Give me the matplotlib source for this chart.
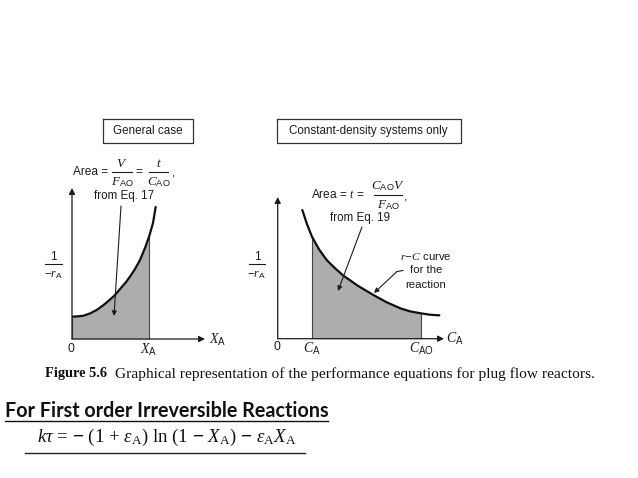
"""Plug flow reactor performance figure: 1/-rA curves for both cases."""

import matplotlib
matplotlib.use("Agg")
import matplotlib.pyplot as plt
import numpy as np

plt.rcParams.update({
    "font.family": "Liberation Sans",
    "mathtext.fontset": "custom",
    "mathtext.rm": "Liberation Sans",
    "mathtext.it": "Liberation Serif:italic",
    "mathtext.bf": "Liberation Sans:bold",
    "mathtext.sf": "Liberation Serif",
})

# values are fractions of the axis length
general_x = [0, .045, .085, .135, .185, .233, .278, .323, .368, .406, .436, .474, .511, .549, .581, .609, .629]
general_y = [.148, .150, .154, .169, .192, .222, .255, .291, .338, .377, .413, .464, .523, .603, .682, .768, .874]
general_xa = 0.581

constant_x = [.148, .176, .206, .249, .295, .345, .395, .484, .576, .652, .736, .796, .861, .917, .972]
constant_y = [.908, .809, .720, .630, .555, .497, .445, .372, .308, .259, .215, .193, .179, .169, .165]
constant_ca = 0.206
constant_cao = 0.861

W, H = 638, 478
INK = "#1c1c1c"
SHADE = "#adadad"


def panel_axes(fig, left, right, top, bottom):
    ax = fig.add_axes([left / W, 1 - bottom / H, (right - left) / W, (bottom - top) / H])
    ax.set_xlim(0, 1)
    ax.set_ylim(0, 1)
    ax.axis("off")
    ax.patch.set_alpha(0)
    ax.annotate("", xy=(1, 0), xytext=(0, 0), arrowprops=dict(arrowstyle="-|>", color=INK, lw=0.9, shrinkA=0, shrinkB=0, mutation_scale=9))
    ax.annotate("", xy=(0, 1), xytext=(0, 0), arrowprops=dict(arrowstyle="-|>", color=INK, lw=0.9, shrinkA=0, shrinkB=0, mutation_scale=9))
    return ax


def shade(ax, x, y, x0, x1):
    x = np.array(x)
    y = np.array(y)
    keep = (x >= x0) & (x <= x1)
    ax.fill_between(x[keep], 0, y[keep], color=SHADE, lw=0)
    ax.vlines([x0, x1], 0, [y[keep][0], y[keep][-1]], color="#444444", lw=0.8)


fig = plt.figure(figsize=(W / 100, H / 100), dpi=100, facecolor="white")

ax1 = panel_axes(fig, 72, 205, 188, 339)
shade(ax1, general_x, general_y, 0, general_xa)
ax1.plot(general_x, general_y, color="#101010", lw=1.6, solid_capstyle="round")

ax2 = panel_axes(fig, 277.7, 444, 197, 338.7)
shade(ax2, constant_x, constant_y, constant_ca, constant_cao)
ax2.plot(constant_x, constant_y, color="#101010", lw=1.6, solid_capstyle="round")

# overlay in pixel coordinates for the labels
top = fig.add_axes([0, 0, 1, 1])
top.set_xlim(0, W)
top.set_ylim(H, 0)
top.axis("off")
top.patch.set_alpha(0)


def label(x, y, s, size=8.4, **kw):
    kw.setdefault("ha", "center")
    kw.setdefault("va", "center")
    top.text(x, y, s, size=size, color=INK, **kw)


def pointer(tail, head):
    top.annotate("", xy=head, xytext=tail, arrowprops=dict(arrowstyle="-|>", color=INK, lw=0.8, shrinkA=0, shrinkB=0, mutation_scale=7))


def frac(x0, x1, y, upper, lower, up_y, low_y, size=9.5):
    top.plot([x0, x1], [y, y], color=INK, lw=0.8)
    label((x0 + x1) / 2, up_y, upper, size=size)
    label((x0 + x1) / 2, low_y, lower, size=size)


# header boxes
for x0, x1, text in [(103, 192.5, "General case"), (277, 460.5, "Constant-density systems only")]:
    top.plot([x0, x1, x1, x0, x0], [119, 119, 142.5, 142.5, 119], color="#333333", lw=0.9)
    label((x0 + x1) / 2, 131, text, size=8.4)

# left panel
label(91, 172, "Area =", size=8.6)
frac(112, 132, 172, r"$V$", r"$F_{\mathrm{AO}}$", 164, 182)
label(138.5, 172, "=", size=8.6)
frac(149, 168, 172, r"$t$", r"$C_{\mathrm{AO}}$", 164, 182)
label(174, 174, ",", size=8.6)
label(124, 196, "from Eq. 17")
pointer((121, 206), (114, 316))
frac(45, 62, 264, "1", r"$-r_{\mathrm{A}}$", 257, 275, size=8.6)
label(71, 349, "0", size=8.8)
label(149, 350, r"$X_{\mathrm{A}}$", size=10)
label(218, 340, r"$X_{\mathrm{A}}$", size=10)

# right panel
label(338, 195, r"Area = $t$ =", size=8.6)
frac(374, 402, 195, r"$C_{\mathrm{AO}}V$", r"$F_{\mathrm{AO}}$", 186, 205)
label(406, 198, ",", size=8.6)
label(360, 218, "from Eq. 19")
pointer((362, 227), (338, 291))
frac(249, 265, 264, "1", r"$-r_{\mathrm{A}}$", 257, 275, size=8.6)
label(277, 347, "0", size=8.8)
label(312, 349, r"$C_{\mathrm{A}}$", size=10)
label(421, 349, r"$C_{\mathrm{AO}}$", size=10)
label(455, 339, r"$C_{\mathrm{A}}$", size=10)
label(426, 256, r"$r\!-\!C$ curve", size=8.2)
label(426, 270, "for the", size=8.2)
label(426, 285, "reaction", size=8.2)
top.plot([403, 397], [270.5, 271.5], color=INK, lw=0.8)
pointer((397, 271.5), (374, 293))

# caption
top.text(45, 374, "Figure 5.6", size=10.4, family="Liberation Serif", weight="bold", color="#111111", va="center")
top.text(115, 374, "Graphical representation of the performance equations for plug flow reactors.", size=11.1, family="Liberation Serif", color="#111111", va="center")

# heading and equation
top.text(5, 411, "For First order Irreversible Reactions", size=14.2, family="Lato", weight="bold", color="#111111", va="center")
top.plot([5, 328], [420.5, 420.5], color="#111111", lw=1.0)
top.text(37, 437, r"$k\tau$ = $-$ (1 + $\varepsilon_{\mathsf{A}}$) ln (1 $-$ $X_{\mathsf{A}}$) $-$ $\varepsilon_{\mathsf{A}}X_{\mathsf{A}}$", size=13.6, family="Liberation Serif", color="#111111", va="center")
top.plot([25, 305], [452.5, 452.5], color="#222222", lw=1.0)

fig.savefig("out.png", dpi=100)
